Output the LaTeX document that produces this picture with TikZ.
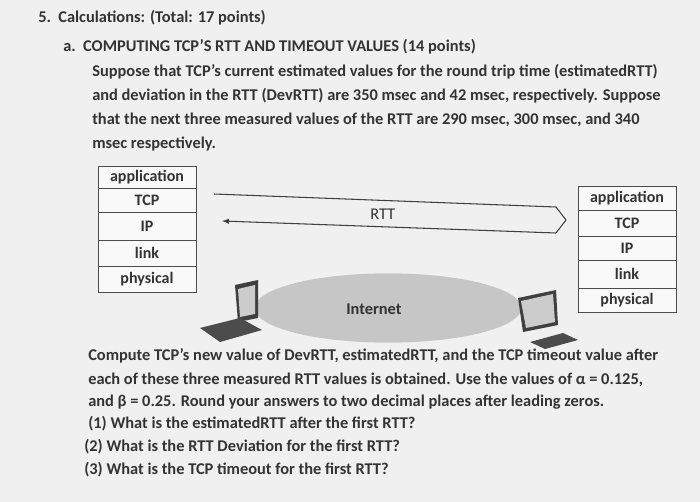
\documentclass[tikz,border=0pt]{standalone}
\usepackage{fontspec}
\setmainfont{Carlito}
\usetikzlibrary{shapes.geometric}
\begin{document}
\begin{tikzpicture}[x=0.75pt,y=-0.75pt,
  txt/.style={anchor=west,inner sep=0pt,font=\fontsize{12.3}{14}\selectfont\bfseries,text=black!80},
  cell/.style={draw=black!70,line width=0.6pt,minimum width=73.5pt,inner sep=0pt,font=\fontsize{12}{13}\selectfont\bfseries,text=black!80,fill=white!95!gray}]
\useasboundingbox[fill=gray!12] (0,0) rectangle (700,502);
\node[txt] (t1) at (38,18) {5.\ \ Calculations: (Total: 17 points)};
\node[txt] (t2) at (63,47) {a.\ \ COMPUTING TCP'S RTT AND TIMEOUT VALUES (14 points)};
\node[txt] (p1) at (92,72) {Suppose that TCP's current estimated values for the round trip time (estimatedRTT)};
\node[txt] (p2) at (92,96) {and deviation in the RTT (DevRTT) are 350 msec and 42 msec, respectively. Suppose};
\node[txt] (p3) at (92,120) {that the next three measured values of the RTT are 290 msec, 300 msec, and 340};
\node[txt] (p4) at (92,144) {msec respectively.};
% left stack
\foreach \n/\t/\a/\b in {la/application/166/188,lb/TCP/188/212,lc/IP/212/240,ld/link/240/266,le/physical/266/292}{
  \node[cell,minimum height={(\b-\a)*0.75pt}] (\n) at (147,{(\a+\b)/2}) {\t};}
\foreach \n/\t/\a/\b in {ra/application/186/210,rb/TCP/210/236,rc/IP/236/260,rd/link/260/288,re/physical/288/312}{
  \node[cell,minimum height={(\b-\a)*0.75pt}] (\n) at (627,{(\a+\b)/2}) {\t};}
% RTT arrow
\coordinate (a1) at (214,194);
\coordinate (a2) at (556,207);
\coordinate (a3) at (566,220);
\coordinate (a4) at (556,233);
\coordinate (a5) at (222,221);
\draw[black!75,line width=0.8pt] (a1) -- (a2) -- (a3) -- (a4);
\draw[black!75,line width=0.8pt,-latex] (a4) -- (a5);
\node[txt,font=\fontsize{12.3}{14}\selectfont] (rtt) at (370,214) {RTT};
% cloud
\node[ellipse,fill=gray!45,minimum width=200pt,minimum height=52pt] (cloud) at (388,308) {};
\node[txt] (inet) at (346,309) {Internet};
% computers
\fill[black!75] (235,285) -- (258,280) -- (258,318) -- (238,322) -- cycle;
\fill[gray!40] (238,289) -- (255,285) -- (255,314) -- (240,317) -- cycle;
\fill[black!70] (200,328) -- (240,318) -- (262,330) -- (220,342) -- cycle;
\fill[black!75] (518,298) -- (556,290) -- (558,325) -- (523,332) -- cycle;
\fill[gray!40] (521,301) -- (553,294) -- (555,322) -- (526,328) -- cycle;
\fill[black!70] (530,342) -- (563,333) -- (578,340) -- (545,349) -- cycle;
% bottom text
\node[txt] (q1) at (88,356) {Compute TCP's new value of DevRTT, estimatedRTT, and the TCP timeout value after};
\node[txt] (q2) at (88,380) {each of these three measured RTT values is obtained. Use the values of α = 0.125,};
\node[txt] (q3) at (88,402) {and β = 0.25. Round your answers to two decimal places after leading zeros.};
\node[txt] (q4) at (88,424) {(1) What is the estimatedRTT after the first RTT?};
\node[txt] (q5) at (84,447) {(2) What is the RTT Deviation for the first RTT?};
\node[txt] (q6) at (84,470) {(3) What is the TCP timeout for the first RTT?};
\end{tikzpicture}
\end{document}
